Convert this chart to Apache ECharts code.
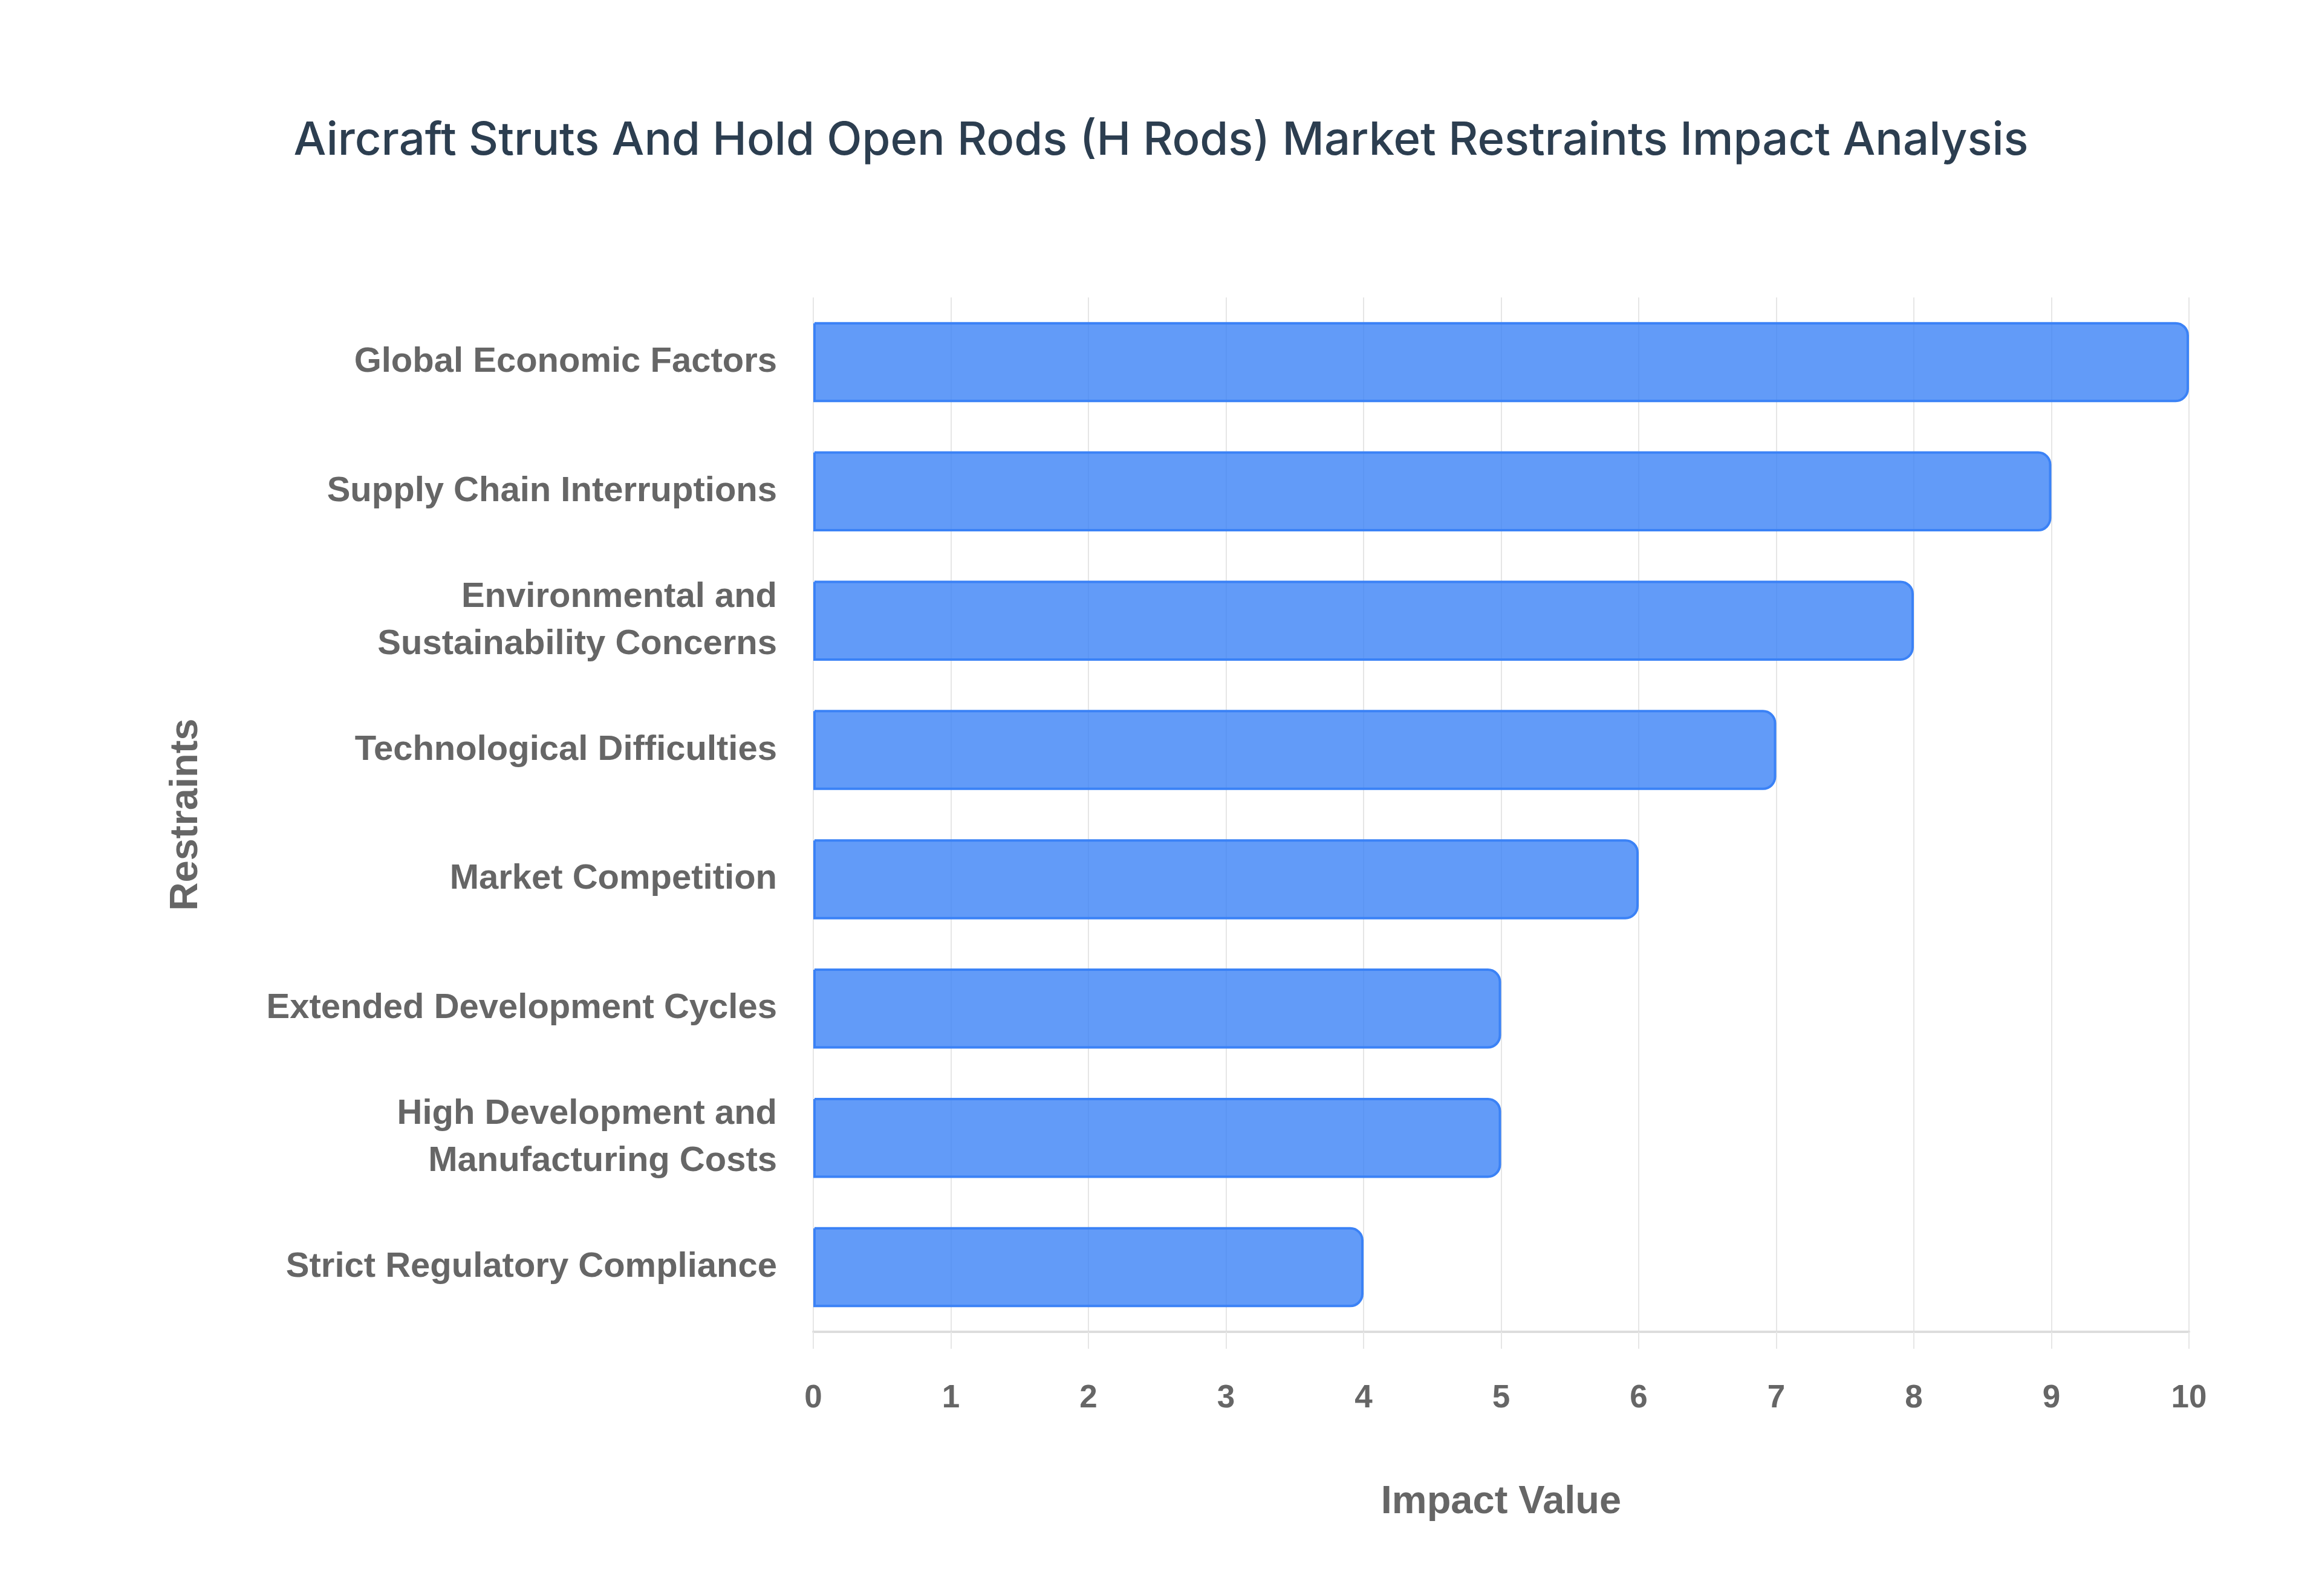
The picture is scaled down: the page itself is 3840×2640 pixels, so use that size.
<!DOCTYPE html>
<html>
<head>
<meta charset="utf-8">
<script src="https://cdn.jsdelivr.net/npm/echarts@6/dist/echarts.min.js"></script>
<style>
  html, body { margin: 0; padding: 0; background: #ffffff; }
  #chart { width: 3840px; height: 2640px; }
</style>
</head>
<body>
<div id="chart"></div>
<script>
// chart data, top to bottom
var categories = [
    'Global Economic Factors',
    'Supply Chain Interruptions',
    'Environmental and\nSustainability Concerns',
    'Technological Difficulties',
    'Market Competition',
    'Extended Development Cycles',
    'High Development and\nManufacturing Costs',
    'Strict Regulatory Compliance'
];
var impactValues = [10, 9, 8, 7, 6, 5, 5, 4];
var titleText = 'Aircraft Struts And Hold Open Rods (H Rods) Market Restraints Impact Analysis';

var chart = echarts.init(document.getElementById('chart'));

var labelFont = {
    color: '#666666',
    fontFamily: '"Liberation Sans", Arial, sans-serif',
    fontWeight: 'bold'
};

chart.setOption({
    backgroundColor: '#ffffff',
    animation: false,
    title: {
        text: titleText,
        left: 'center',
        top: 190,
        textStyle: {
            color: '#2c3e50',
            fontFamily: 'Inter, "Open Sans", sans-serif',
            fontWeight: 500,
            fontSize: 76
        }
    },
    grid: {
        left: 1345,
        right: 220,
        top: 492,
        bottom: 437
    },
    xAxis: {
        type: 'value',
        min: 0,
        max: 10,
        interval: 1,
        name: 'Impact Value',
        nameLocation: 'middle',
        nameGap: 250,
        nameTextStyle: Object.assign({ fontSize: 65 }, labelFont),
        axisLine: { show: true, lineStyle: { color: '#dddddd', width: 4 } },
        axisTick: { show: true, length: 28, lineStyle: { color: '#e6e6e6', width: 2 } },
        axisLabel: Object.assign({ fontSize: 53, margin: 84 }, labelFont),
        splitLine: { show: true, lineStyle: { color: '#e6e6e6', width: 2 } }
    },
    yAxis: {
        type: 'category',
        data: categories,
        inverse: true,
        name: 'Restraints',
        nameLocation: 'middle',
        nameGap: 1004,
        nameTextStyle: Object.assign({ fontSize: 65 }, labelFont),
        axisLine: { show: false },
        axisTick: { show: false },
        axisLabel: Object.assign({ fontSize: 58, margin: 60, lineHeight: 78, align: 'right' }, labelFont)
    },
    series: [{
        type: 'bar',
        data: impactValues,
        barWidth: '62%',
        itemStyle: {
            color: 'rgba(59,130,246,0.8)',
            borderColor: '#3b82f6',
            borderWidth: 4,
            borderRadius: [0, 20, 20, 0]
        }
    }]
});
</script>
</body>
</html>
